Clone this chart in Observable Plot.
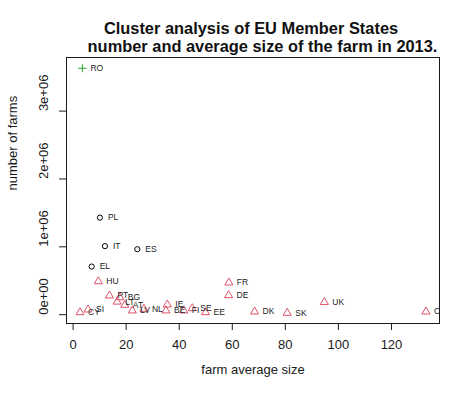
<!DOCTYPE html>
<html><head><meta charset="utf-8">
<script src="https://cdn.jsdelivr.net/npm/d3@7"></script>
<script src="https://cdn.jsdelivr.net/npm/@observablehq/plot@0.6"></script>
<style>body{margin:0;background:#fff}</style>
</head><body><div id="chart"></div>
<script>
const countries = ["RO","PL","IT","ES","EL","HU","FR","DE","UK","PT","BG","LT","AT","LV","NL","IE","BE","FI","SE","EE","DK","SK","CZ","CY","SI"];
const avgSize  = [3.5, 10.1, 12.0, 24.2, 7.0, 9.5, 58.7, 58.6, 94.7, 13.7, 17.6, 16.6, 19.5, 22.3, 26.7, 35.5, 35.0, 41.7, 44.9, 49.9, 68.4, 80.7, 133.0, 2.6, 5.6];
const farms    = [3630000, 1430000, 1010000, 965000, 709000, 490000, 472000, 285000, 185000, 280000, 255000, 190000, 143000, 60000, 84000, 148000, 60000, 60000, 93000, 34000, 44000, 25000, 44000, 34000, 74000];
const cluster  = [3, 1, 1, 1, 1, 2, 2, 2, 2, 2, 2, 2, 2, 2, 2, 2, 2, 2, 2, 2, 2, 2, 2, 2, 2];
const xTicks = [0, 20, 40, 60, 80, 100, 120];
const yTicks = [0, 1e6, 2e6, 3e6];
const yTickLabels = ["0e+00", "1e+06", "2e+06", "3e+06"];
const titleLines = ["Cluster analysis of EU Member States", "number and average size of the farm in 2013."];
const xLabel = "farm average size";
const yLabel = "number of farms";

const data = countries.map((c, i) => ({c, x: avgSize[i], y: farms[i], k: cluster[i]}));
const font = "'Liberation Sans', Arial, sans-serif";
const ink = "#1a1a1a";

const chart = Plot.plot({
  width: 474, height: 395,
  marginLeft: 66, marginRight: 35, marginTop: 57, marginBottom: 72,
  style: {fontFamily: font, background: "#fff", color: ink},
  x: {domain: [-2.49, 138.1]},
  y: {domain: [-130000, 3790000]},
  marks: [
    Plot.axisX({ticks: xTicks, tickSize: 7, tickPadding: 9, fontSize: 13, label: null, stroke: ink, fill: ink}),
    Plot.axisY({ticks: yTicks, tickSize: 7, tickFormat: () => "", label: null, stroke: ink}),
    Plot.text(yTicks, {y: d => d, text: (d, i) => yTickLabels[i], frameAnchor: "left", dx: -23, rotate: -90, fontSize: 13, fill: ink}),
    Plot.dot(data.filter(d => d.k === 1), {x: "x", y: "y", symbol: "circle", r: 2.6, stroke: "#000", strokeWidth: 1}),
    Plot.dot(data.filter(d => d.k === 2), {x: "x", y: "y", symbol: "triangle", r: 3, stroke: "#DF536B", strokeWidth: 1, fill: "none"}),
    Plot.dot(data.filter(d => d.k === 3), {x: "x", y: "y", symbol: "plus", r: 2.7, stroke: "#4CAF50", strokeWidth: 1.2}),
    Plot.text(data, {x: "x", y: "y", text: "c", dx: 8, textAnchor: "start", fontSize: 8.5, fill: ink, clip: true}),
    Plot.frame({stroke: ink}),
    Plot.text([xLabel], {frameAnchor: "bottom", dy: 50.5, fontSize: 13, fill: ink}),
    Plot.text([yLabel], {frameAnchor: "left", rotate: -90, dx: -54, fontSize: 13, fill: ink}),
    Plot.text([titleLines[0]], {frameAnchor: "top", dx: -2, dy: -35.5, fontSize: 16.4, fontWeight: "bold", fill: "#111"}),
    Plot.text([titleLines[1]], {frameAnchor: "top", dx: 9.5, dy: -17.3, fontSize: 16.4, fontWeight: "bold", fill: "#111"})
  ]
});
document.getElementById("chart").appendChild(chart);
</script>
</body></html>
